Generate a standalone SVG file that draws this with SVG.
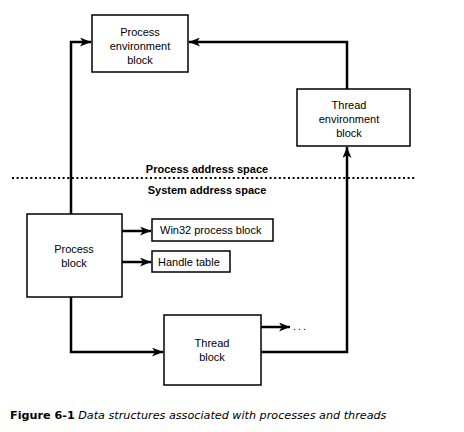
<svg xmlns="http://www.w3.org/2000/svg" width="464" height="432" viewBox="0 0 464 432">
<style>
.box{fill:#fff;stroke:#000;stroke-width:1.5}
.t{font-family:"Liberation Sans",Arial,sans-serif;font-size:11px;fill:#000}
.c{text-anchor:middle}
.b{font-weight:bold}
.conn{fill:none;stroke:#000;stroke-width:2.5;stroke-linejoin:miter}
</style>
<defs>
<marker id="ah" markerWidth="11" markerHeight="9" refX="11" refY="4.5" orient="auto" markerUnits="userSpaceOnUse">
<path d="M0,0 L11,4.5 L0,9 L3,4.5 Z" fill="#000"/>
</marker>
</defs>
<rect width="464" height="432" fill="#fff"/>
<g id="connectors">
<path class="conn" d="M71,214 V42 H91" marker-end="url(#ah)"/>
<path class="conn" d="M347,89 V42 H189" marker-end="url(#ah)"/>
<path class="conn" d="M122,231 H151" marker-end="url(#ah)"/>
<path class="conn" d="M122,262 H151" marker-end="url(#ah)"/>
<path class="conn" d="M71,297 V352 H163" marker-end="url(#ah)"/>
<path class="conn" d="M261,327 H290" marker-end="url(#ah)"/>
<path class="conn" d="M261,352 H347 V147" marker-end="url(#ah)"/>
</g>
<g id="divider">
<line x1="12" y1="178" x2="415" y2="178" stroke="#000" stroke-width="2" stroke-dasharray="2,2.6"/>
<text class="t c b" x="207" y="173">Process address space</text>
<text class="t c b" x="207" y="194">System address space</text>
</g>
<g id="peb">
<rect class="box" x="92" y="15" width="96" height="57"/>
<text class="t c" x="140" y="36">Process</text>
<text class="t c" x="140" y="50">environment</text>
<text class="t c" x="140" y="64">block</text>
</g>
<g id="teb">
<rect class="box" x="297" y="89" width="113" height="57"/>
<text class="t c" x="349" y="109">Thread</text>
<text class="t c" x="349" y="123">environment</text>
<text class="t c" x="349" y="137">block</text>
</g>
<g id="process-block">
<rect class="box" x="27" y="214" width="95" height="83"/>
<text class="t c" x="74" y="253">Process</text>
<text class="t c" x="74" y="267">block</text>
</g>
<g id="win32">
<rect class="box" x="152" y="219" width="121" height="22"/>
<text class="t" x="160" y="234">Win32 process block</text>
</g>
<g id="handle">
<rect class="box" x="152" y="251" width="78" height="21"/>
<text class="t" x="158" y="266">Handle table</text>
</g>
<g id="thread-block">
<rect class="box" x="164" y="315" width="97" height="70"/>
<text class="t c" x="212" y="347">Thread</text>
<text class="t c" x="212" y="361">block</text>
</g>
<g id="ellipsis">
<text class="t" x="293" y="330" letter-spacing="2">...</text>
</g>
<g id="caption">
<text x="10" y="419" font-family="'DejaVu Sans',Verdana,sans-serif" font-size="11.2" fill="#000"><tspan font-weight="bold">Figure 6-1</tspan> <tspan font-style="italic">Data structures associated with processes and threads</tspan></text>
</g>
</svg>
